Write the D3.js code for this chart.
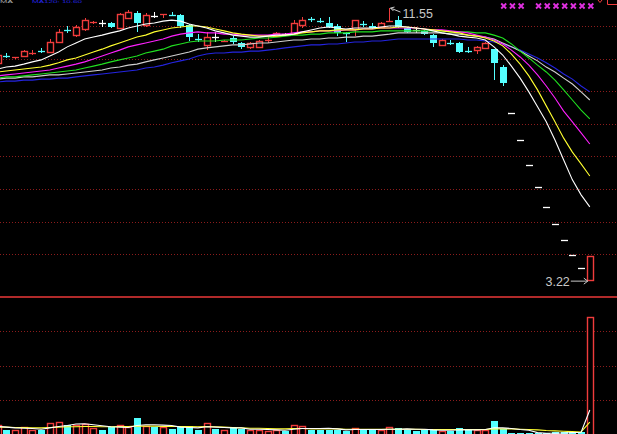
<!DOCTYPE html>
<html>
<head>
<meta charset="utf-8">
<script src="https://cdn.jsdelivr.net/npm/d3@7"></script>
<style>
html, body { margin: 0; padding: 0; background: #000; overflow: hidden; }
svg { display: block; }
</style>
</head>
<body>
<div id="chart"></div>
<script>
/* Global Constants
============================================= */
const SVG_WIDTH = 617;
const SVG_HEIGHT = 434;

const RED = "#f03c3c";
const CYAN = "#54ffff";
const WHITE = "#ffffff";
const GRID = "#8c1c1c";

// daily candles (index 0 is cut by the left edge)
const opens  = [9.87,10.09,10.03,10.09,10.16,10.24,10.21,10.52,10.89,10.73,10.90,11.09,11.10,11.10,10.93,11.25,11.41,11.03,11.32,11.34,
                11.37,11.33,11.03,10.63,10.42,10.66,10.53,10.63,10.48,10.36,10.36,10.56,10.69,10.75,10.75,11.03,11.22,11.16,11.09,11.00,
                10.80,10.91,11.07,11.00,10.97,11.14,11.18,10.94,10.88,10.85,10.72,10.42,10.49,10.48,10.24,10.26,10.33,10.29,9.74,8.33,
                7.50,6.75,6.07,5.46,4.92,4.43,3.98,3.58,3.22];
const highs  = [10.14,10.17,10.06,10.26,10.26,10.33,10.60,10.91,11.00,11.03,11.25,11.15,11.18,11.13,11.40,11.49,11.47,11.39,11.44,11.37,
                11.42,11.36,11.05,10.75,10.82,10.82,10.57,10.69,10.50,10.51,10.57,10.66,10.82,10.80,11.18,11.28,11.28,11.25,11.28,11.06,
                10.82,11.18,11.15,11.09,11.13,11.55,11.31,10.97,10.97,10.88,10.75,10.60,10.57,10.50,10.36,10.38,10.51,10.30,9.80,8.33,
                7.50,6.75,6.07,5.46,4.92,4.43,3.98,3.58,3.94];
const lows   = [9.85,10.02,9.99,10.08,10.11,10.17,10.17,10.48,10.78,10.66,10.85,11.05,10.98,10.94,10.90,11.24,10.83,10.98,11.24,11.24,
                11.31,10.95,10.55,10.52,10.26,10.51,10.50,10.45,10.29,10.30,10.34,10.48,10.66,10.69,10.72,10.94,11.12,11.09,10.94,10.69,
                10.51,10.69,10.97,10.92,10.94,11.12,10.94,10.79,10.79,10.72,10.36,10.39,10.42,10.17,10.17,10.14,10.30,9.34,9.16,8.33,
                7.50,6.75,6.07,5.46,4.92,4.43,3.98,3.58,3.22];
const closes = [10.11,10.07,10.05,10.22,10.18,10.22,10.52,10.82,10.87,10.98,11.18,11.11,11.10,10.98,11.37,11.44,11.10,11.34,11.32,11.36,
                11.35,11.00,10.65,10.61,10.65,10.66,10.55,10.51,10.36,10.48,10.54,10.58,10.79,10.75,11.09,11.18,11.20,11.14,10.97,10.79,
                10.78,11.18,11.05,10.94,11.09,11.16,10.97,10.82,10.88,10.75,10.48,10.57,10.47,10.20,10.22,10.36,10.48,9.87,9.25,8.33,
                7.50,6.75,6.07,5.46,4.92,4.43,3.98,3.58,3.94];

// moving average lines
const maWhite   = [9.68,9.74,9.77,9.83,9.90,9.96,10.08,10.20,10.36,10.48,10.60,10.66,10.72,10.79,10.85,10.94,11.00,11.06,11.09,11.15,
                   11.18,11.15,11.06,11.00,10.94,10.85,10.79,10.72,10.69,10.66,10.66,10.69,10.72,10.72,10.75,10.82,10.88,10.94,10.97,10.94,
                   10.91,10.94,10.94,10.94,10.97,11.00,11.00,10.97,10.94,10.91,10.85,10.79,10.75,10.69,10.66,10.63,10.57,10.36,10.11,9.77,
                   9.40,8.98,8.52,8.06,7.50,6.89,6.28,5.82,5.45];
const maYellow  = [9.59,9.62,9.65,9.68,9.71,9.74,9.80,9.87,9.96,10.02,10.11,10.20,10.29,10.39,10.48,10.57,10.66,10.72,10.82,10.88,
                   10.94,10.97,11.00,11.00,10.97,10.91,10.85,10.79,10.75,10.72,10.69,10.69,10.69,10.72,10.75,10.79,10.82,10.85,10.85,10.88,
                   10.88,10.88,10.91,10.91,10.94,10.94,10.97,10.97,10.94,10.91,10.88,10.85,10.82,10.79,10.72,10.69,10.63,10.54,10.39,10.14,
                   9.83,9.47,9.04,8.55,8.06,7.56,7.13,6.77,6.40];
const maMagenta = [9.47,9.50,9.53,9.56,9.59,9.62,9.65,9.71,9.77,9.83,9.90,9.99,10.08,10.17,10.26,10.36,10.42,10.48,10.54,10.60,
                   10.69,10.75,10.79,10.82,10.79,10.79,10.75,10.75,10.72,10.72,10.72,10.72,10.75,10.75,10.79,10.82,10.82,10.85,10.85,10.85,
                   10.88,10.88,10.91,10.91,10.94,10.94,10.94,10.94,10.94,10.91,10.88,10.88,10.85,10.82,10.79,10.72,10.66,10.57,10.45,10.26,
                   10.05,9.80,9.50,9.16,8.79,8.39,8.06,7.72,7.38];
const maGreen   = [9.40,9.44,9.44,9.47,9.50,9.53,9.56,9.59,9.62,9.65,9.71,9.77,9.83,9.90,9.96,10.02,10.08,10.17,10.23,10.29,
                   10.39,10.45,10.51,10.54,10.54,10.54,10.57,10.57,10.57,10.60,10.63,10.63,10.66,10.69,10.72,10.72,10.75,10.75,10.79,10.79,
                   10.79,10.82,10.82,10.82,10.85,10.85,10.85,10.85,10.85,10.85,10.85,10.85,10.82,10.82,10.82,10.79,10.79,10.72,10.63,10.45,
                   10.23,10.02,9.80,9.59,9.34,9.04,8.73,8.42,8.15];
const maGray    = [9.37,9.40,9.40,9.44,9.44,9.47,9.50,9.50,9.53,9.56,9.59,9.62,9.65,9.71,9.74,9.80,9.83,9.90,9.96,10.02,
                   10.08,10.14,10.20,10.29,10.33,10.36,10.39,10.42,10.42,10.45,10.48,10.48,10.51,10.54,10.57,10.57,10.60,10.60,10.63,10.63,
                   10.66,10.66,10.69,10.69,10.72,10.75,10.79,10.79,10.79,10.79,10.79,10.79,10.75,10.75,10.72,10.69,10.66,10.60,10.48,10.36,
                   10.23,10.08,9.93,9.74,9.59,9.40,9.22,8.98,8.73];
const maBlue    = [9.28,9.31,9.31,9.34,9.34,9.37,9.37,9.40,9.40,9.44,9.47,9.50,9.53,9.56,9.59,9.62,9.65,9.71,9.74,9.80,
                   9.87,9.93,9.99,10.08,10.14,10.17,10.17,10.20,10.20,10.23,10.23,10.26,10.29,10.33,10.36,10.39,10.42,10.42,10.45,10.45,
                   10.48,10.51,10.51,10.54,10.54,10.57,10.60,10.60,10.60,10.60,10.60,10.60,10.60,10.60,10.57,10.57,10.54,10.51,10.45,10.36,
                   10.26,10.14,10.02,9.87,9.71,9.53,9.37,9.16,8.98];

// volume (grid lines at 1, 2, 3)
const volumes  = [0.26,0.12,0.13,0.20,0.12,0.13,0.32,0.35,0.26,0.26,0.28,0.17,0.13,0.20,0.26,0.20,0.47,0.24,0.20,0.19,
                  0.14,0.20,0.24,0.12,0.33,0.14,0.12,0.17,0.14,0.12,0.12,0.10,0.12,0.10,0.26,0.23,0.12,0.12,0.12,0.13,
                  0.10,0.17,0.12,0.12,0.12,0.20,0.17,0.12,0.09,0.12,0.12,0.10,0.10,0.17,0.12,0.12,0.12,0.38,0.14,0.03,
                  0.03,0.03,0.02,0.03,0.05,0.06,0.07,0.07,3.42];
const volMaWhite  = [0.22,0.20,0.18,0.17,0.16,0.14,0.18,0.22,0.25,0.29,0.30,0.27,0.24,0.21,0.20,0.19,0.25,0.27,0.27,0.26,
                     0.25,0.20,0.19,0.18,0.21,0.20,0.19,0.18,0.18,0.14,0.14,0.13,0.12,0.11,0.14,0.16,0.16,0.16,0.17,0.15,
                     0.12,0.13,0.13,0.13,0.13,0.14,0.14,0.15,0.14,0.14,0.12,0.11,0.11,0.12,0.12,0.12,0.13,0.18,0.18,0.16,
                     0.13,0.11,0.04,0.02,0.02,0.03,0.04,0.05,0.70];
const volMaYellow = [0.20,0.20,0.19,0.19,0.18,0.18,0.19,0.20,0.21,0.21,0.22,0.22,0.21,0.21,0.22,0.22,0.23,0.23,0.23,0.22,
                     0.22,0.22,0.22,0.21,0.22,0.21,0.20,0.19,0.18,0.17,0.17,0.16,0.15,0.15,0.16,0.16,0.15,0.15,0.15,0.15,
                     0.14,0.14,0.14,0.14,0.14,0.14,0.14,0.14,0.14,0.13,0.13,0.13,0.13,0.13,0.13,0.13,0.13,0.15,0.15,0.15,
                     0.14,0.13,0.12,0.10,0.09,0.08,0.07,0.06,0.35];

const priceGrid = [4, 5, 6, 7, 8, 9, 10, 11];
const volGrid = [1, 2, 3];
const markIdx = [58, 59, 60, 62, 63, 64, 65, 66, 67, 68];

const HIGH_IDX = 45;
const LOW_IDX = 68;

/* Scales
============================================= */
var N = closes.length;

var x = d3.scaleBand()
    .domain(d3.range(N))
    .range([-6.76, 594.16]);

function xc(i) {
    return x(i) + x.bandwidth() / 2;
}

var yPrice = d3.scaleLinear().domain([4, 11]).range([254.2, 26]);
var yVol = d3.scaleLinear().domain([0, 4]).range([434, 297]);

var svg = d3.select("#chart")
    .append("svg")
    .attr("width", SVG_WIDTH)
    .attr("height", SVG_HEIGHT)
    .style("background", "#000");

svg.append("defs").append("clipPath")
    .attr("id", "clipPrice")
    .append("rect")
    .attr("x", 0).attr("y", 0)
    .attr("width", SVG_WIDTH).attr("height", 296);

/* Grid
============================================= */
function drawGrid(scale, values) {
    var g = svg.append("g")
        .call(d3.axisLeft(scale.copy().interpolate(d3.interpolateRound))
            .tickValues(values)
            .tickSize(-SVG_WIDTH)
            .tickFormat(""));
    g.select(".domain").remove();
    g.selectAll("line")
        .attr("stroke", GRID)
        .attr("stroke-dasharray", "1,2");
    return g;
}
drawGrid(yPrice, priceGrid);
drawGrid(yVol, volGrid);

svg.append("line")
    .attr("x1", 0).attr("x2", SVG_WIDTH)
    .attr("y1", 297).attr("y2", 297)
    .attr("stroke", "#b02a2a")
    .attr("stroke-width", 2);

/* Candles
============================================= */
var priceG = svg.append("g").attr("clip-path", "url(#clipPrice)");
var candleG = priceG.append("g");

candleG.selectAll("g")
    .data(d3.range(N))
    .join("g")
    .each(function(i) {
        var g = d3.select(this);
        var o = opens[i], c = closes[i];
        var cx = Math.round(xc(i)) + 0.5;
        var yo = Math.round(yPrice(o)), yc = Math.round(yPrice(c));
        var yh = Math.round(yPrice(highs[i])), yl = Math.round(yPrice(lows[i]));
        var col = c > o ? RED : (c < o ? CYAN : WHITE);

        if (c > o && yo - yc >= 2) {
            // hollow red body, wick stops at the box
            g.append("line").attr("x1", cx).attr("x2", cx).attr("y1", yh).attr("y2", yc).attr("stroke", col);
            g.append("line").attr("x1", cx).attr("x2", cx).attr("y1", yo).attr("y2", yl).attr("stroke", col);
            g.append("rect")
                .attr("x", cx - 3).attr("y", yc + 0.5)
                .attr("width", 6).attr("height", yo - yc)
                .attr("fill", "#000").attr("stroke", col)
                .attr("stroke-width", 1.4);
        } else if (c < o && yc - yo >= 2) {
            g.append("line").attr("x1", cx).attr("x2", cx).attr("y1", yh).attr("y2", yl).attr("stroke", col);
            g.append("rect")
                .attr("x", cx - 3.5).attr("y", yo)
                .attr("width", 7).attr("height", yc - yo)
                .attr("fill", col);
        } else {
            // cross / dash
            if (yl > yh) {
                g.append("line").attr("x1", cx).attr("x2", cx).attr("y1", yh).attr("y2", yl).attr("stroke", col);
            }
            g.append("line")
                .attr("x1", cx - 3.5).attr("x2", cx + 3.5)
                .attr("y1", yc + 0.5).attr("y2", yc + 0.5)
                .attr("stroke", col)
                .attr("stroke-width", 1.3);
        }
    });

/* Moving averages
============================================= */
var priceLine = d3.line()
    .x(function(d, i) { return xc(i); })
    .y(function(d) { return yPrice(d); });

var maSeries = [
    { values: maBlue, color: "#2424e0" },
    { values: maGray, color: "#d0d0d0" },
    { values: maGreen, color: "#20e020" },
    { values: maMagenta, color: "#ff20ff" },
    { values: maYellow, color: "#ffff30" },
    { values: maWhite, color: "#ffffff" }
];

priceG.selectAll("path.ma")
    .data(maSeries)
    .join("path")
    .attr("class", "ma")
    .attr("d", function(d) { return priceLine(d.values); })
    .attr("fill", "none")
    .attr("stroke", function(d) { return d.color; })
    .attr("stroke-width", 1.1);

/* High / low labels
============================================= */
var hx = xc(HIGH_IDX), hy = yPrice(highs[HIGH_IDX]);
priceG.append("path")
    .attr("d", `M${hx + 1},${hy} L${hx + 11},${hy + 4} M${hx + 1},${hy} l3,3 M${hx + 1},${hy} l4,-1`)
    .attr("stroke", "#c8c8c8").attr("fill", "none");
priceG.append("text")
    .attr("x", hx + 13).attr("y", hy + 10)
    .attr("fill", "#c8c8c8")
    .style("font", "12.5px 'Liberation Sans', Arial, sans-serif")
    .text(highs[HIGH_IDX].toFixed(2));

var lx = xc(LOW_IDX), ly = yPrice(lows[LOW_IDX]);
priceG.append("path")
    .attr("d", `M${lx - 19},${ly + 1.5} L${lx - 2},${ly + 1.5} M${lx - 2},${ly + 1.5} l-4,-3 M${lx - 2},${ly + 1.5} l-4,3`)
    .attr("stroke", "#c8c8c8").attr("fill", "none");
priceG.append("text")
    .attr("x", lx - 20).attr("y", ly + 6.5)
    .attr("text-anchor", "end")
    .attr("fill", "#c8c8c8")
    .style("font", "12.5px 'Liberation Sans', Arial, sans-serif")
    .text(lows[LOW_IDX].toFixed(2));

/* Top strip: signal marks and the thin title row
============================================= */
svg.append("g").selectAll("path")
    .data(markIdx)
    .join("path")
    .attr("d", function(i) {
        var mx = xc(i) + 1;
        return `M${mx - 2.5},3.5 L${mx + 2.5},8.5 M${mx + 2.5},3.5 L${mx - 2.5},8.5`;
    })
    .attr("stroke", "#e030e0")
    .attr("stroke-width", 1.8);

svg.append("path")
    .attr("d", "M598,0 L600,2.5 L602,0 M607.5,-2 L607.5,4.5 L618,4.5")
    .attr("stroke", RED).attr("fill", "none");

svg.append("text")
    .attr("x", 0).attr("y", 3.2)
    .attr("fill", "#a0a0a0")
    .attr("textLength", 13)
    .attr("lengthAdjust", "spacingAndGlyphs")
    .style("font", "4px 'Liberation Sans', Arial, sans-serif")
    .text("MA");
svg.append("text")
    .attr("x", 32).attr("y", 3.2)
    .attr("fill", "#2424e0")
    .attr("textLength", 50)
    .attr("lengthAdjust", "spacingAndGlyphs")
    .style("font", "4px 'Liberation Sans', Arial, sans-serif")
    .text("MA120: 10.60");

/* Volume
============================================= */
var volG = svg.append("g");

volG.selectAll("rect")
    .data(d3.range(N))
    .join("rect")
    .each(function(i) {
        var up = closes[i] > opens[i];
        var cx = Math.round(xc(i)) + 0.5;
        var top = Math.round(yVol(volumes[i]));
        var r = d3.select(this);
        if (up) {
            r.attr("x", cx - 3).attr("y", top + 0.5)
                .attr("width", 6).attr("height", SVG_HEIGHT + 2 - top)
                .attr("fill", "#000").attr("stroke", RED)
                .attr("stroke-width", 1.4);
        } else {
            r.attr("x", cx - 3.5).attr("y", top)
                .attr("width", 7).attr("height", SVG_HEIGHT + 2 - top)
                .attr("fill", CYAN);
        }
    });

var volLine = d3.line()
    .x(function(d, i) { return xc(i); })
    .y(function(d) { return yVol(d); });

svg.selectAll("path.vma")
    .data([{ values: volMaYellow, color: "#ffff30" }, { values: volMaWhite, color: "#ffffff" }])
    .join("path")
    .attr("class", "vma")
    .attr("d", function(d) { return volLine(d.values); })
    .attr("fill", "none")
    .attr("stroke", function(d) { return d.color; })
    .attr("stroke-width", 1.1);
</script>
</body>
</html>
